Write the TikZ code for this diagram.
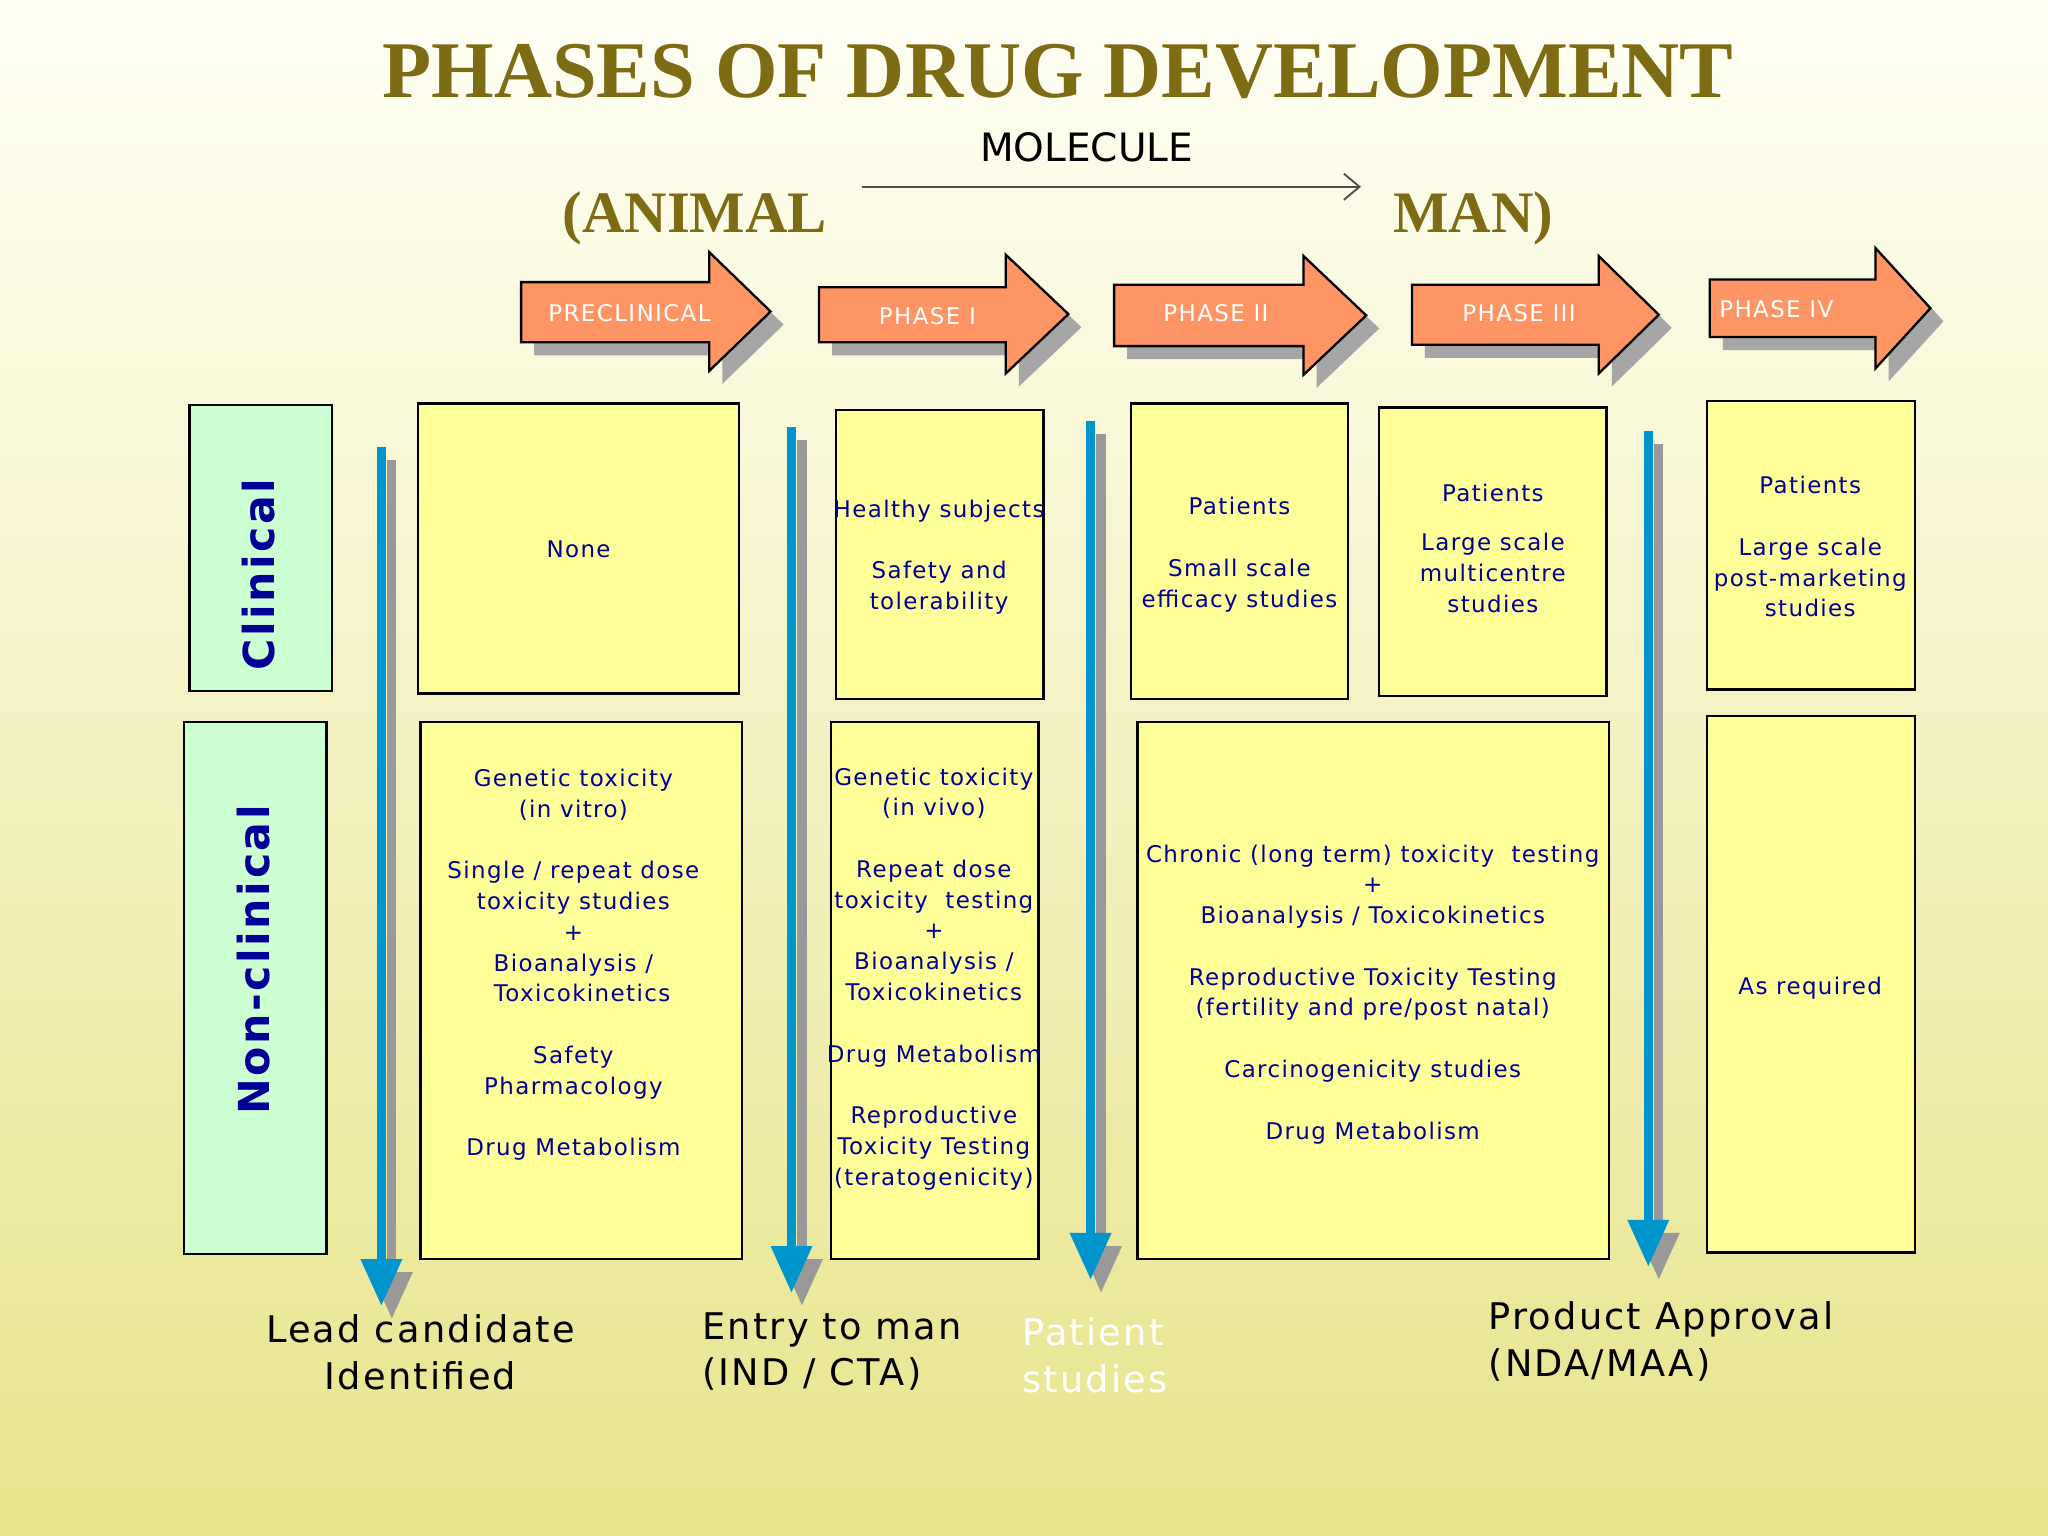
\documentclass[tikz,border=0pt]{standalone}
\usepackage{fontspec}
\setmainfont{Liberation Serif}
\setsansfont{DejaVu Sans}
\newfontfamily\wide{DejaVu Sans}[LetterSpace=6]
\usetikzlibrary{arrows.meta}
\definecolor{olive}{RGB}{125,108,20}
\definecolor{navy}{RGB}{0,0,150}
\definecolor{salmon}{RGB}{255,148,100}
\definecolor{mint}{RGB}{204,255,210}
\definecolor{pale}{RGB}{255,255,153}
\definecolor{blu}{RGB}{0,150,205}
\tikzset{
 ybox/.style={draw=black,fill=pale,line width=0.5pt},
 gbox/.style={draw=black,fill=mint,line width=0.5pt},
 btxt/.style={text=navy,font=\wide\fontsize{5}{6.7}\selectfont,align=center,anchor=north,inner sep=0},
 ptxt/.style={text=white,font=\wide\fontsize{5}{6}\selectfont,inner sep=0},
 side/.style={text=navy,font=\wide\bfseries\fontsize{9.3}{10}\selectfont,rotate=90},
 bot/.style={font=\wide\fontsize{8}{10.2}\selectfont,align=left,anchor=north west,inner sep=0},
 vshadow/.style={line width=0.07cm,draw=gray!80,-{Triangle[width=0.3cm,length=0.36cm]}},
 varrow/.style={line width=0.07cm,draw=blu,-{Triangle[width=0.3cm,length=0.36cm]}},
}
\newcommand{\phasearrow}[7]{%
 \fill[gray!70] ({#1+10},{#4+10})--({#2+10},{#4+10})--({#2+10},{#6+10})--({#3+10},{(#6+#7)/2+10})--({#2+10},{#7+10})--({#2+10},{#5+10})--({#1+10},{#5+10})--cycle;
 \draw[fill=salmon,line width=0.5pt] (#1,#4)--(#2,#4)--(#2,#6)--(#3,{(#6+#7)/2})--(#2,#7)--(#2,#5)--(#1,#5)--cycle;
}
\begin{document}
\begin{tikzpicture}[x=0.01cm,y=-0.01cm]
\shade[top color=yellow!4,bottom color={rgb,255:red,232;green,228;blue,140}] (0,0) rectangle (1568,1176);
\useasboundingbox (0,0) rectangle (1568,1176);
\node[text=olive,font=\bfseries\fontsize{17.5}{20}\selectfont] (title) at (810,55) {PHASES OF DRUG DEVELOPMENT};
\node[font=\sffamily\fontsize{8.5}{10}\selectfont] (mol) at (832,113) {MOLECULE};
\coordinate (ma) at (660,143); \coordinate (mb) at (1042,143);
\draw[gray!60!black,line width=0.4pt,-{Straight Barb[length=0.12cm,width=0.2cm]}] (ma)--(mb);
\node[text=olive,font=\bfseries\fontsize{12.8}{16}\selectfont] (animal) at (532,167) {(ANIMAL};
\node[text=olive,font=\bfseries\fontsize{12.8}{16}\selectfont] (man) at (1128,167) {MAN)};
\phasearrow{399}{543}{590}{216}{262}{193}{284}
\phasearrow{627}{770}{818}{220}{262}{195}{286}
\phasearrow{853}{998}{1046}{218}{265}{196}{287}
\phasearrow{1081}{1224}{1270}{218}{264}{196}{286}
\phasearrow{1309}{1436}{1478}{214}{258}{190}{282}
\node[ptxt] (p0) at (482,240) {PRECLINICAL};
\node[ptxt] (p1) at (710,242) {PHASE I};
\node[ptxt] (p2) at (931,240) {PHASE II};
\node[ptxt] (p3) at (1163,240) {PHASE III};
\node[ptxt] (p4) at (1360,237) {PHASE IV};
\draw[gbox] (145,310) rectangle (254,529);
\node[side] (cl) at (198,440) {Clinical};
\draw[gbox] (141,553) rectangle (250,960);
\node[side] (ncl) at (194,735) {Non-clinical};
\draw[ybox] (320,309) rectangle (566,531);
\draw[ybox] (640,314) rectangle (799,535);
\draw[ybox] (866,309) rectangle (1032,535);
\draw[ybox] (1056,312) rectangle (1230,533);
\draw[ybox] (1307,307) rectangle (1466,528);
\draw[ybox] (322,553) rectangle (568,964);
\draw[ybox] (636,553) rectangle (795,964);
\draw[ybox] (871,553) rectangle (1232,964);
\draw[ybox] (1307,548) rectangle (1466,959);
\node[btxt] (t1) at (443,413) {None};
\node[btxt] (t2) at (719,382) {Healthy subjects\\ \\Safety and\\tolerability};
\node[btxt] (t3) at (949,380) {Patients\\ \\Small scale\\efficacy studies};
\node[btxt] (t4) at (1143,370) {Patients\\[4pt]Large scale\\multicentre\\studies};
\node[btxt] (t5) at (1386,364) {Patients\\ \\Large scale\\post-marketing\\studies};
\node[btxt] (t6) at (439,588) {Genetic toxicity\\(in vitro)\\ \\Single / repeat dose\\toxicity studies\\+\\Bioanalysis /\\\ \ Toxicokinetics\\ \\Safety\\Pharmacology\\ \\Drug Metabolism};
\node[btxt] (t7) at (715,587) {Genetic toxicity\\(in vivo)\\ \\Repeat dose\\toxicity\ \ testing\\+\\Bioanalysis /\\Toxicokinetics\\ \\Drug Metabolism\\ \\Reproductive\\Toxicity Testing\\(teratogenicity)};
\node[btxt] (t8) at (1051,646) {Chronic (long term) toxicity\ \ testing\\+\\Bioanalysis / Toxicokinetics\\ \\Reproductive Toxicity Testing\\(fertility and pre/post natal)\\ \\Carcinogenicity studies\\ \\Drug Metabolism};
\node[btxt] (t9) at (1386,747) {As required};
\foreach \n/\x/\ya/\yb in {a/292/342/1000,b/606/327/990,c/835/322/980,d/1262/330/970}{
 \coordinate (s\n) at (\x+8,\ya+10); \coordinate (e\n) at (\x+8,\yb+10);
 \draw[vshadow] (s\n)--(e\n);
 \coordinate (u\n) at (\x,\ya); \coordinate (v\n) at (\x,\yb);
 \draw[varrow] (u\n)--(v\n);
}
\node[bot,align=center,anchor=north] (l1) at (322,1006) {Lead candidate\\Identified};
\node[bot] (l2) at (537,1004) {Entry to man\\(IND / CTA)};
\node[bot,text=white] (l3) at (782,1008) {Patient\\studies};
\node[bot] (l4) at (1139,996) {Product Approval\\(NDA/MAA)};
\end{tikzpicture}
\end{document}
